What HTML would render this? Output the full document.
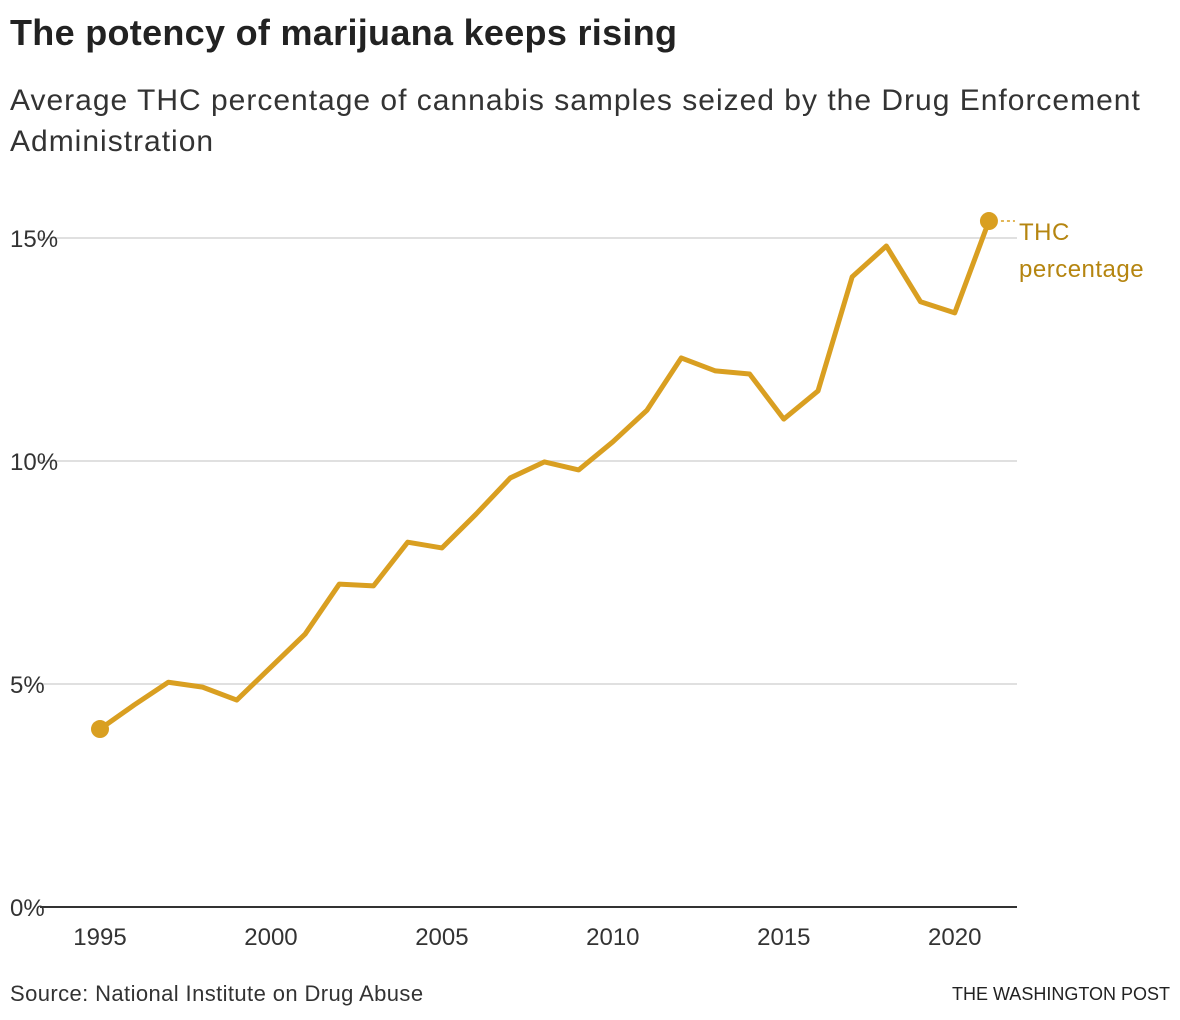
<!DOCTYPE html>
<html><head><meta charset="utf-8">
<style>
body{margin:0;background:#fff;width:1180px;height:1020px;overflow:hidden;font-family:"Liberation Sans",sans-serif;color:#222}
#title{position:absolute;left:10px;top:12px;font-size:36px;font-weight:bold;letter-spacing:0.3px;margin:0}
#subtitle{position:absolute;left:10px;top:80px;font-size:30px;line-height:41px;color:#333;width:1170px;letter-spacing:1px}
#source{position:absolute;left:10px;top:981px;font-size:22px;letter-spacing:0.4px;color:#333}
#credit{position:absolute;right:10px;top:984px;font-size:18px;color:#222}
svg{position:absolute;left:0;top:0}
</style></head><body>
<h1 id="title">The potency of marijuana keeps rising</h1>
<div id="subtitle">Average THC percentage of cannabis samples seized by the Drug Enforcement Administration</div>
<svg id="chart" width="1180" height="1020"></svg>
<div id="source">Source: National Institute on Drug Abuse</div>
<div id="credit">THE WASHINGTON POST</div>
<script>
const years=[1995,1996,1997,1998,1999,2000,2001,2002,2003,2004,2005,2006,2007,2008,2009,2010,2011,2012,2013,2014,2015,2016,2017,2018,2019,2020,2021];
const thc=[3.99,4.53,5.04,4.93,4.64,5.38,6.12,7.24,7.2,8.18,8.05,8.81,9.62,9.98,9.8,10.43,11.14,12.31,12.02,11.95,10.94,11.57,14.13,14.82,13.57,13.32,15.38];
const yTicks=[0,5,10,15];
const yTickLabels=["0%","5%","10%","15%"];
const xTicks=[1995,2000,2005,2010,2015,2020];
const NS="http://www.w3.org/2000/svg";
const svg=document.getElementById('chart');
const x=v=>100+(v-1995)*34.19;
const y=v=>907-v*44.6;
function mk(t,a){const e=document.createElementNS(NS,t);for(const k in a)e.setAttribute(k,a[k]);svg.appendChild(e);return e;}
yTicks.forEach((t,i)=>{
  if(t>0){const g=mk('line',{x1:40,x2:1017,y1:y(t),y2:y(t),stroke:'#d6d6d6','stroke-width':1.5});
  
  }
  const l=mk('text',{x:10,y:y(t)+9,'font-size':24,fill:'#333','font-family':'Liberation Sans, sans-serif'});
  l.textContent=yTickLabels[i];
  
  
});
const base=mk('line',{x1:40,x2:1017,y1:y(0),y2:y(0),stroke:'#333','stroke-width':2});


xTicks.forEach(t=>{
  const l=mk('text',{x:x(t),y:945,'font-size':24,fill:'#333','text-anchor':'middle','font-family':'Liberation Sans, sans-serif'});
  l.textContent=t;
  
  
});
const d=years.map((yr,i)=>(i?'L':'M')+x(yr)+','+y(thc[i])).join(' ');
const p=mk('path',{d:d,fill:'none',stroke:'#d99f21','stroke-width':5,'stroke-linejoin':'round'});


[0,years.length-1].forEach(i=>{
  const c=mk('circle',{cx:x(years[i]),cy:y(thc[i]),r:9,fill:'#d99f21'});
  
  
});
const li=years.length-1;
const ld=mk('line',{x1:x(years[li])+12,x2:x(years[li])+26,y1:y(thc[li]),y2:y(thc[li]),stroke:'#d99f21','stroke-width':1.5,'stroke-dasharray':'3,3'});


const lab=mk('text',{x:1019,y:240,'font-size':24,'letter-spacing':0.5,fill:'#b58510','font-family':'Liberation Sans, sans-serif'});
lab.innerHTML='<tspan x="1019">THC</tspan><tspan x="1019" dy="37">percentage</tspan>';


</script>
</body></html>
